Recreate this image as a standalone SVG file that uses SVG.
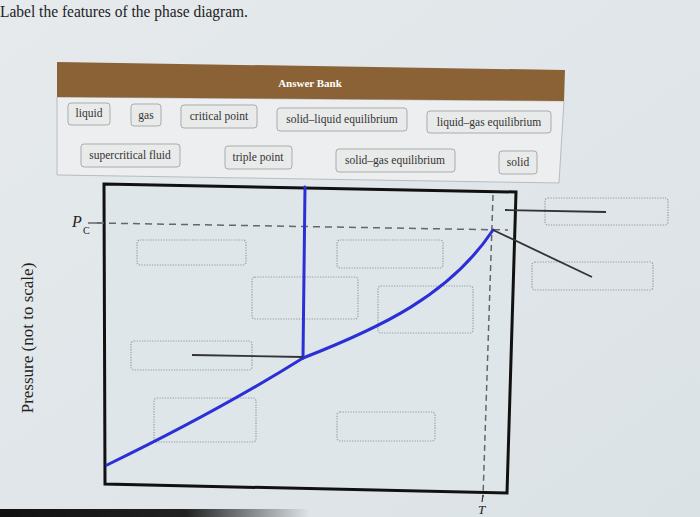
<svg xmlns="http://www.w3.org/2000/svg" width="700" height="517" viewBox="0 0 700 517">
<defs>
<linearGradient id="bg" x1="0" y1="0" x2="1" y2="1">
<stop offset="0" stop-color="#e6eaed"/>
<stop offset="1" stop-color="#dbe2e6"/>
</linearGradient>
<linearGradient id="band" x1="0" y1="0" x2="1" y2="0">
<stop offset="0" stop-color="#111"/>
<stop offset="0.6" stop-color="#222"/>
<stop offset="1" stop-color="#222" stop-opacity="0"/>
</linearGradient>
</defs>
<style>
.t{font-family:"Liberation Serif","Times New Roman",serif;fill:#222}
.btn rect{fill:#e9eaea;stroke:#a9abad;stroke-width:1}
.btn text{font-family:"Liberation Serif","Times New Roman",serif;font-size:11.5px;fill:#333;text-anchor:middle}
.slot{fill:none;stroke:#9a9ea2;stroke-width:1.2;stroke-dasharray:1.3 1.3}
.blue{fill:none;stroke:#2b2fd6;stroke-width:3;stroke-linecap:round}
.lead{stroke:#333;stroke-width:1.8;fill:none}
.dash{stroke:#666;stroke-width:1.5;fill:none}
</style>
<rect width="700" height="517" fill="url(#bg)"/>
<text class="t" x="0" y="17" font-size="17" textLength="248" lengthAdjust="spacingAndGlyphs">Label the features of the phase diagram.</text>

<g id="answer-bank">
<polygon points="57,97 564,101 559,183 57,175" fill="#eceeef" stroke="#b8bcbf" stroke-width="1"/>
<polygon points="57,62 565,70 564,101 57,97" fill="#8a6236"/>
<text x="310" y="87" font-family="Liberation Serif,Times New Roman,serif" font-size="11" font-weight="bold" fill="#fff" text-anchor="middle">Answer Bank</text>
<g id="btn-liquid" class="btn"><rect x="68" y="103" width="42" height="22" rx="3"/><text x="89" y="117">liquid</text></g>
<g id="btn-gas" class="btn"><rect x="131" y="104" width="30" height="22" rx="3"/><text x="146" y="119">gas</text></g>
<g id="btn-critical" class="btn"><rect x="181" y="105" width="76" height="23" rx="3"/><text x="219" y="120">critical point</text></g>
<g id="btn-sl" class="btn"><rect x="277" y="108" width="130" height="23" rx="3"/><text x="342" y="123">solid–liquid equilibrium</text></g>
<g id="btn-lg" class="btn"><rect x="427" y="111" width="124" height="22" rx="3"/><text x="489" y="126">liquid–gas equilibrium</text></g>
<g id="btn-scf" class="btn"><rect x="81" y="144" width="99" height="23" rx="3"/><text x="130" y="159">supercritical fluid</text></g>
<g id="btn-triple" class="btn"><rect x="225" y="146" width="67" height="23" rx="3"/><text x="258" y="161">triple point</text></g>
<g id="btn-sg" class="btn"><rect x="336" y="149" width="119" height="23" rx="3"/><text x="395" y="164">solid–gas equilibrium</text></g>
<g id="btn-solid" class="btn"><rect x="499" y="151" width="38" height="23" rx="3"/><text x="518" y="166">solid</text></g>
</g>

<g id="axis-label">
<text class="t" x="0" y="0" font-size="17" text-anchor="middle" transform="translate(33,338) rotate(-90)">Pressure (not to scale)</text>
</g>

<g id="frame">
<polygon points="104,184 516,192 507,493 105,484" fill="#dfe6ea" stroke="#111" stroke-width="3"/>
</g>

<g id="reference-lines">
<line class="dash" x1="97" y1="223" x2="508" y2="230" stroke-dasharray="7 5"/>
<line x1="88" y1="223" x2="101" y2="223" stroke="#666" stroke-width="1.5"/>
<line class="dash" x1="493" y1="195" x2="483" y2="497" stroke-width="1.2" stroke-dasharray="6 4"/>
<line x1="483" y1="495" x2="482" y2="502" stroke="#333" stroke-width="1.2"/>
<text class="t" x="72" y="227" font-size="16" font-style="italic">P</text>
<text class="t" x="83" y="234" font-size="10">C</text>
<text class="t" x="478" y="514" font-size="13" font-style="italic">T</text>
</g>

<g id="slots">
<rect class="slot" x="137" y="240" width="109" height="25" rx="3"/>
<rect class="slot" x="337" y="240" width="106" height="28" rx="3"/>
<rect class="slot" x="252" y="277" width="106" height="42" rx="3"/>
<rect class="slot" x="378" y="286" width="95" height="47" rx="3"/>
<rect class="slot" x="131" y="341" width="121" height="29" rx="3"/>
<rect class="slot" x="154" y="398" width="102" height="44" rx="3"/>
<rect class="slot" x="337" y="412" width="98" height="29" rx="3"/>
<rect class="slot" x="545" y="198" width="123" height="27" rx="3"/>
<rect class="slot" x="532" y="262" width="121" height="28" rx="3"/>
</g>

<g id="connectors">
<path id="solid-gas" class="blue" d="M107,465 Q220,410 303,358"/>
<path id="solid-liquid" class="blue" d="M303,358 L305,187"/>
<path id="liquid-gas" class="blue" d="M303,358 C380,328 450,295 493,230"/>
<line class="lead" x1="192" y1="355" x2="303" y2="357"/>
<line class="lead" x1="505" y1="210" x2="606" y2="212"/>
<line class="lead" x1="493" y1="230" x2="592" y2="277"/>
</g>

<rect x="0" y="509" width="310" height="8" fill="url(#band)"/>
</svg>
